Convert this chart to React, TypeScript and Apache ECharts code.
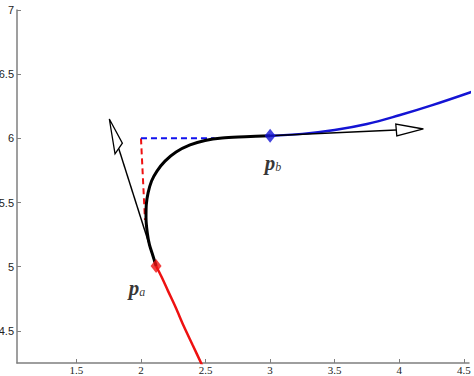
import React, { useEffect, useRef } from "react";
import * as echarts from "echarts";

const xTicks = [1.5, 2, 2.5, 3, 3.5, 4, 4.5];
const yTicks = [4.5, 5, 5.5, 6, 6.5, 7];

const redCurve = [
  [2.117, 5.006], [2.16, 4.92], [2.21, 4.81], [2.27, 4.68], [2.33, 4.54],
  [2.4, 4.39], [2.47, 4.24], [2.52, 4.13],
];
const blackCurve = [
  [2.117, 5.006], [2.093, 5.084], [2.066, 5.17], [2.049, 5.263], [2.039, 5.38],
  [2.041, 5.481], [2.055, 5.575], [2.082, 5.668], [2.124, 5.745], [2.186, 5.823],
  [2.272, 5.894], [2.38, 5.949], [2.496, 5.984], [2.628, 6.003], [2.806, 6.012],
  [3.0, 6.021],
];
const blueCurve = [
  [3.0, 6.021], [3.25, 6.035], [3.5, 6.065], [3.75, 6.112], [4.0, 6.18],
  [4.25, 6.257], [4.56, 6.362],
];
const redDashed = [[2.0, 6.0], [2.031, 5.364]];
const blueDashed = [[2.0, 6.0], [2.57, 6.0]];

const arrowA = [[2.117, 5.006], [1.828, 5.92]];
const headA = [[1.755, 6.151], [1.856, 5.962], [1.799, 5.879]];
const arrowB = [[3.0, 6.021], [3.977, 6.065]];
const headB = [[4.187, 6.073], [3.973, 6.112], [3.981, 6.019]];

const pointA = [2.117, 5.006];
const pointB = [3.0, 6.021];

const axisColor = "#7f7f7f";

function headSeries(head: number[][]) {
  return {
    type: "custom",
    z: 5,
    clip: false,
    data: [head[0]],
    renderItem: (_params: any, api: any) => ({
      type: "polygon",
      shape: { points: head.map((p) => api.coord(p)) },
      style: { fill: "#ffffff", stroke: "#000000", lineWidth: 1.3 },
    }),
  };
}

const labelRich = {
  p: {
    fontFamily: "Liberation Serif",
    fontStyle: "italic",
    fontWeight: "bold",
    fontSize: 21,
    color: "#000000",
    lineHeight: 22,
  },
  s: {
    fontFamily: "Liberation Serif",
    fontStyle: "italic",
    fontSize: 12,
    color: "#000000",
    lineHeight: 22,
    padding: [9, 0, 0, 0],
  },
};

export default function App() {
  const ref = useRef<HTMLDivElement>(null);
  useEffect(() => {
    document.body.style.margin = "0";
    const chart = echarts.init(ref.current!, null, { renderer: "svg" });
    chart.setOption({
      animation: false,
      grid: { left: 17, right: 5, top: 10, bottom: 13, outerBoundsMode: "none" },
      xAxis: {
        type: "value",
        min: 1.04,
        max: 4.54,
        splitLine: { show: false },
        axisLine: { lineStyle: { color: axisColor, width: 1.5 } },
        axisTick: { inside: true, length: 4, lineStyle: { color: axisColor }, customValues: xTicks },
        axisLabel: {
          customValues: xTicks,
          color: "#222",
          fontFamily: "Liberation Serif",
          fontSize: 11,
          lineHeight: 11,
          margin: 1,
        },
      },
      yAxis: {
        type: "value",
        min: 4.25,
        max: 7,
        splitLine: { show: false },
        axisLine: { show: true, lineStyle: { color: axisColor, width: 1.5 } },
        axisTick: { show: true, inside: true, length: 4, lineStyle: { color: axisColor }, customValues: yTicks },
        axisLabel: {
          customValues: yTicks,
          color: "#222",
          fontFamily: "Liberation Sans",
          fontSize: 11,
          margin: 3,
        },
      },
      series: [
        {
          type: "line", data: redDashed, symbol: "none", z: 2,
          lineStyle: { color: "#ee1111", width: 2, type: [6, 4] },
        },
        {
          type: "line", data: blueDashed, symbol: "none", z: 2,
          lineStyle: { color: "#1111ee", width: 2, type: [6, 4] },
        },
        {
          type: "line", data: redCurve, symbol: "none", smooth: 0.3, z: 3,
          lineStyle: { color: "#ee1111", width: 2.5 },
        },
        {
          type: "line", data: blueCurve, symbol: "none", smooth: 0.4, z: 3,
          lineStyle: { color: "#1414d4", width: 2.5 },
        },
        {
          type: "line", data: blackCurve, symbol: "none", smooth: 0.3, z: 4,
          lineStyle: { color: "#000000", width: 3 },
        },
        {
          type: "line", data: arrowA, symbol: "none", z: 4,
          lineStyle: { color: "#000000", width: 1.5 },
        },
        {
          type: "line", data: arrowB, symbol: "none", z: 4,
          lineStyle: { color: "#000000", width: 1.5 },
        },
        headSeries(headA),
        headSeries(headB),
        {
          type: "scatter", z: 6,
          data: [pointA],
          symbol: "diamond",
          symbolSize: [11, 14],
          itemStyle: { color: "#ee1111" },
          label: {
            show: true,
            position: "inside",
            offset: [-19, 22],
            formatter: "{p|p}{s|a}",
            rich: labelRich,
          },
        },
        {
          type: "scatter", z: 6,
          data: [pointB],
          symbol: "diamond",
          symbolSize: [11, 14],
          itemStyle: { color: "#1414d4" },
          label: {
            show: true,
            position: "inside",
            offset: [3, 27],
            formatter: "{p|p}{s|b}",
            rich: labelRich,
          },
        },
      ],
    });
    return () => chart.dispose();
  }, []);
  return <div ref={ref} style={{ width: 474, height: 376 }} />;
}
